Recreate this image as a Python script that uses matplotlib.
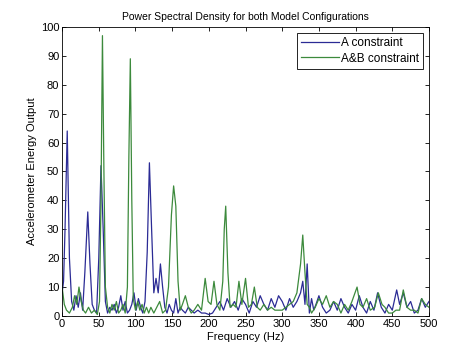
"""
psd_model_configs.py

Power spectral density comparison for two model configurations
(A constraint vs A&B constraint), MATLAB-style figure.
"""
import matplotlib
matplotlib.use("Agg")
import matplotlib.pyplot as plt

# ============================================================
# DATA
# ============================================================
freq_a = [0, 2, 4, 7, 10, 13, 16, 19, 22, 25, 28, 31, 35, 38, 41, 44, 47, 50, 53, 56,
          59, 62, 65, 68, 71, 74, 77, 80, 83, 86, 89, 92, 95, 98, 101, 104, 107, 110,
          113, 116, 119, 122, 125, 128, 131, 134, 137, 140, 143, 146, 149, 152, 155,
          158, 161, 164, 168, 172, 176, 180, 185, 190, 195, 200, 205, 210, 215, 220,
          225, 230, 235, 240, 245, 250, 255, 260, 265, 270, 275, 280, 285, 290, 295,
          300, 305, 310, 315, 320, 325, 328, 331, 334, 337, 340, 343, 346, 350, 355,
          360, 365, 370, 375, 380, 385, 390, 395, 400, 405, 410, 415, 420, 425, 430,
          435, 440, 445, 450, 456, 460, 465, 470, 475, 480, 485, 490, 495, 500]
psd_a = [8, 12, 30, 64, 20, 5, 2, 7, 3, 8, 2, 15, 36, 18, 4, 2, 1, 20, 52, 30,
         5, 1, 3, 2, 4, 1, 3, 7, 2, 5, 1, 2, 4, 8, 2, 6, 3, 1,
         5, 22, 53, 30, 8, 13, 8, 18, 10, 3, 1, 4, 2, 1, 6,
         1, 3, 2, 1, 3, 2, 1, 2, 1, 1, 0.5, 1, 3, 5, 2,
         6, 3, 5, 2, 6, 4, 1, 5, 3, 7, 4, 2, 6, 3, 7,
         5, 2, 6, 3, 5, 8, 12, 4, 18, 1, 6, 2, 4, 7, 3,
         1, 2, 5, 2, 6, 3, 1, 4, 2, 7, 3, 1, 5, 2, 8,
         3, 1, 4, 2, 9, 4, 8, 3, 5, 1, 2, 6, 3, 5]

freq_ab = [0, 3, 6, 10, 14, 17, 20, 23, 26, 29, 32, 36, 40, 44, 48, 51, 53, 55, 57, 59,
           62, 65, 68, 71, 74, 77, 80, 83, 86, 89, 91, 93, 95, 97, 100, 103, 106, 109,
           112, 115, 118, 121, 125, 129, 133, 137, 141, 145, 149, 152, 155, 158, 161,
           164, 168, 172, 176, 180, 185, 190, 195, 199, 203, 207, 211, 215, 219, 221,
           223, 226, 229, 233, 237, 241, 245, 250, 254, 258, 262, 266, 270, 275, 280,
           285, 290, 295, 300, 305, 310, 315, 320, 325, 328, 331, 334, 337, 340, 345,
           350, 355, 360, 365, 370, 375, 380, 385, 390, 395, 402, 406, 410, 415, 420,
           426, 431, 436, 440, 445, 450, 455, 460, 465, 470, 475, 480, 485, 490, 495, 500]
psd_ab = [10, 4, 2, 1, 3, 7, 4, 10, 5, 2, 1, 3, 1, 2, 0.5, 5, 40, 97, 50, 10,
          3, 1, 4, 2, 5, 1, 2, 4, 1, 10, 55, 89, 40, 6, 2, 5, 2, 4,
          1, 3, 1, 3, 1, 3, 5, 1, 2, 10, 35, 45, 38, 12, 2,
          4, 7, 3, 1, 2, 4, 2, 13, 5, 4, 12, 4, 2, 12, 30,
          38, 15, 3, 4, 3, 12, 4, 13, 3, 4, 10, 3, 2, 4, 2,
          3, 2, 2, 2, 3, 4, 5, 8, 18, 28, 15, 4, 3, 1, 3,
          6, 4, 7, 3, 5, 4, 1, 4, 2, 5, 10, 4, 3, 6, 2,
          3, 8, 4, 3, 1, 1, 2, 2, 9, 3, 2, 2, 1, 6, 4, 3]

SERIES_LABELS = ["A constraint", "A&B constraint"]
X_TICKS = list(range(0, 501, 50))
Y_TICKS = list(range(0, 101, 10))
# ============================================================

plt.rcParams["font.family"] = ["Liberation Sans", "DejaVu Sans"]
plt.rcParams["font.size"] = 7.5

fig = plt.figure(figsize=(4.74, 3.55), dpi=100)
ax = fig.add_axes([0.131, 0.110, 0.774, 0.814])

ax.plot(freq_a, psd_a, color="#2b2b95", linewidth=0.9, label=SERIES_LABELS[0])
ax.plot(freq_ab, psd_ab, color="#3c8a3c", linewidth=0.9, label=SERIES_LABELS[1])

ax.set_xlim(0, 500)
ax.set_ylim(0, 100)
ax.set_xticks(X_TICKS)
ax.set_yticks(Y_TICKS)
ax.tick_params(direction="in", top=True, right=True, length=3, width=0.6,
               labelsize=8, pad=2)
for sp in ax.spines.values():
    sp.set_linewidth(0.6)

ax.set_title("Power Spectral Density for both Model Configurations", fontsize=7.5, pad=5)
ax.set_xlabel("Frequency (Hz)", fontsize=8, labelpad=2)
ax.set_ylabel("Accelerometer Energy Output", fontsize=8, labelpad=3)

leg = ax.legend(loc="upper right", fancybox=False, framealpha=1, edgecolor="black",
                fontsize=8.5, handlelength=3.2, borderaxespad=0.5,
                borderpad=0.35, labelspacing=0.3, handletextpad=0.2)
leg.get_frame().set_linewidth(0.6)

fig.savefig("out.png", dpi=100)
